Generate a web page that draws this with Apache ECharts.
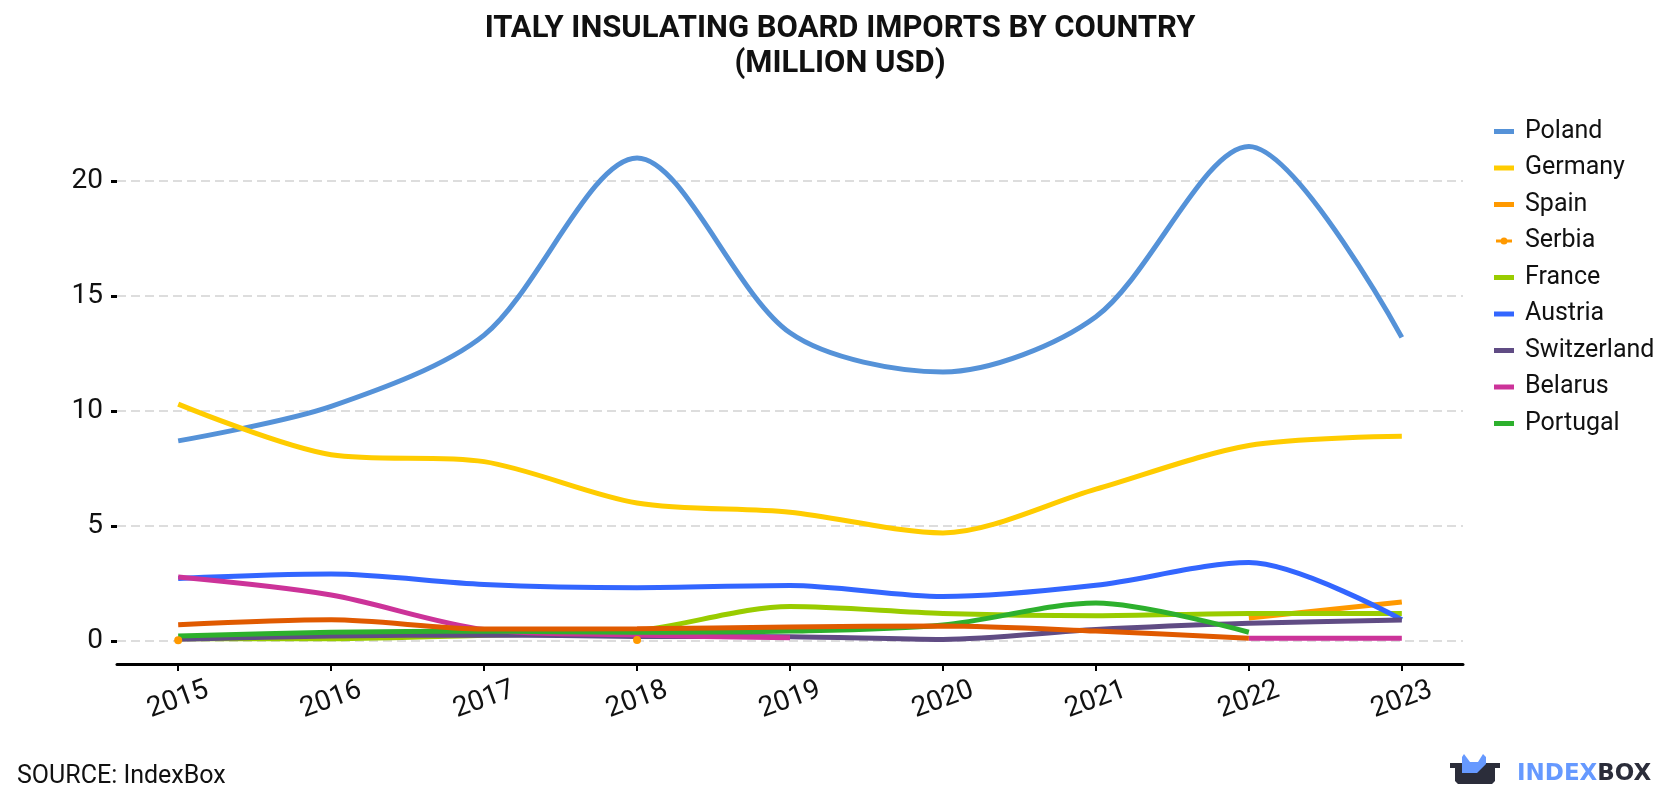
<!DOCTYPE html>
<html>
<head>
<meta charset="utf-8">
<script src="https://cdn.jsdelivr.net/npm/echarts@6/dist/echarts.min.js"></script>
<style>
  html, body { margin: 0; padding: 0; background: #fff; }
  #chart { width: 1680px; height: 800px; }
</style>
</head>
<body>
<div id="chart"></div>
<script>
const years = [2015, 2016, 2017, 2018, 2019, 2020, 2021, 2022, 2023];
const yTicks = [0, 5, 10, 15, 20];

const poland      = [8.7, 10.2, 13.3, 21.0, 13.4, 11.7, 14.1, 21.5, 13.2];
const germany     = [10.3, 8.1, 7.8, 6.0, 5.6, 4.7, 6.6, 8.5, 8.9];
const spain       = [null, null, null, null, null, null, null, 1.0, 1.7];
const serbia      = [0.03, null, null, 0.04, null, null, null, null, null];
const france      = [0.1, 0.1, 0.25, 0.45, 1.5, 1.2, 1.1, 1.2, 1.2];
const austria     = [2.72, 2.91, 2.46, 2.32, 2.41, 1.93, 2.42, 3.41, 0.93];
const switzerland = [0.08, 0.22, 0.26, 0.2, 0.19, 0.07, 0.5, 0.77, 0.91];
const belarus     = [2.78, 2.0, 0.5, 0.26, 0.14, null, null, 0.12, 0.12];
const portugal    = [0.22, 0.38, 0.43, 0.38, 0.43, 0.7, 1.65, 0.38, null];
const other       = [0.71, 0.92, 0.52, 0.53, 0.61, 0.65, 0.43, 0.12, null];

const seriesDefs = [
  { name: 'Poland', data: poland, color: '#5592d8' },
  { name: 'Germany', data: germany, color: '#ffcc00' },
  { name: 'Spain', data: spain, color: '#ff9900' },
  { name: 'Serbia', data: serbia, color: '#ff9900', dots: true },
  { name: 'France', data: france, color: '#99cc00' },
  { name: 'Austria', data: austria, color: '#3366ff' },
  { name: 'Switzerland', data: switzerland, color: '#604c84' },
  { name: 'Belarus', data: belarus, color: '#cc3399' },
  { name: 'Portugal', data: portugal, color: '#2db02d' },
  { name: 'Other', data: other, color: '#e05a00', hidden: true }
];

const lineIcon = 'path://M0,0 M20,14 M0,4.5 L20,4.5 L20,9.5 L0,9.5 Z';
const dotIcon = 'path://M0,0 M20,14 M2,5.5 L18,5.5 L18,8.5 L2,8.5 Z M10,3.5 A3.5,3.5 0 1 1 10,10.5 A3.5,3.5 0 1 1 10,3.5 Z';

const chart = echarts.init(document.getElementById('chart'), null, { renderer: 'canvas' });

const series = seriesDefs.map(d => ({
  name: d.name,
  type: 'line',
  smooth: 0.3,
  connectNulls: false,
  data: d.data.map((v, i) => [years[i], v]),
  symbol: d.dots ? 'circle' : 'none',
  symbolSize: d.dots ? 8 : 0,
  showSymbol: !!d.dots,
  itemStyle: { color: d.color },
  lineStyle: { color: d.color, width: 5 },
  emphasis: { disabled: true },
  z: 2
}));

const option = {
  animation: false,
  backgroundColor: '#ffffff',
  title: {
    text: 'ITALY INSULATING BOARD IMPORTS BY COUNTRY\n(MILLION USD)',
    left: 'center',
    top: 7,
    textStyle: {
      fontFamily: 'Roboto',
      fontWeight: 'bold',
      fontSize: 31,
      lineHeight: 35,
      color: '#111'
    }
  },
  legend: {
    data: seriesDefs.filter(d => !d.hidden).map(d => ({
      name: d.name,
      icon: d.dots ? dotIcon : lineIcon,
      itemStyle: { color: d.color }
    })),
    orient: 'vertical',
    left: 1489,
    top: 114,
    itemWidth: 20,
    itemHeight: 14,
    itemGap: 11.5,
    selectedMode: false,
    textStyle: {
      fontFamily: 'Roboto',
      fontSize: 25,
      lineHeight: 24,
      color: '#111',
      padding: [0, 0, 0, 6]
    }
  },
  grid: { left: 117, right: 217, top: 112, bottom: 136, containLabel: false },
  xAxis: {
    type: 'value',
    min: 2014.6,
    max: 2023.4,
    splitLine: { show: false },
    axisLine: { show: true, onZero: false, lineStyle: { color: '#000', width: 3 } },
    axisTick: { show: true, customValues: years, length: 7, lineStyle: { color: '#000', width: 2 } },
    axisLabel: {
      customValues: years,
      formatter: v => String(Math.round(v)),
      rotate: 20,
      align: 'center',
      verticalAlign: 'middle',
      margin: 36,
      fontFamily: 'Roboto',
      fontSize: 28,
      color: '#111'
    }
  },
  yAxis: {
    type: 'value',
    min: -1,
    max: 23,
    axisLine: { show: false },
    axisTick: { show: true, customValues: yTicks, length: 6, lineStyle: { color: '#000', width: 3 } },
    axisLabel: {
      customValues: yTicks,
      margin: 14,
      fontFamily: 'Roboto',
      fontSize: 28,
      color: '#111'
    },
    splitLine: { show: true, lineStyle: { color: '#dddddd', width: 2, type: [9, 5] } }
  },
  graphic: [
    {
      type: 'text',
      left: 17,
      top: 764,
      style: { text: 'SOURCE: IndexBox', fontFamily: 'Roboto', fontSize: 25, fill: '#111' }
    },
    {
      type: 'polygon',
      shape: { points: [[1450,763],[1500,763],[1500,768],[1495,768],[1495,781],[1492,784],[1458,784],[1455,781],[1455,768],[1450,768]] },
      style: { fill: '#2b2d3a' }
    },
    {
      type: 'polygon',
      shape: { points: [[1462,773],[1462,757],[1464,754],[1470,762],[1478,762],[1483,754],[1486,757],[1486,764],[1477,773]] },
      style: { fill: '#6699ff' }
    },
    {
      type: 'text',
      left: 1517,
      top: 763,
      style: {
        text: '{a|INDEX}{b|BOX}',
        rich: {
          a: { fontFamily: 'DejaVu Sans', fontWeight: 'bold', fontSize: 23, fill: '#6699ff', color: '#6699ff' },
          b: { fontFamily: 'DejaVu Sans', fontWeight: 'bold', fontSize: 23, fill: '#2b2d3a', color: '#2b2d3a' }
        }
      }
    }
  ],
  series: series
};

chart.setOption(option);
</script>
</body>
</html>
